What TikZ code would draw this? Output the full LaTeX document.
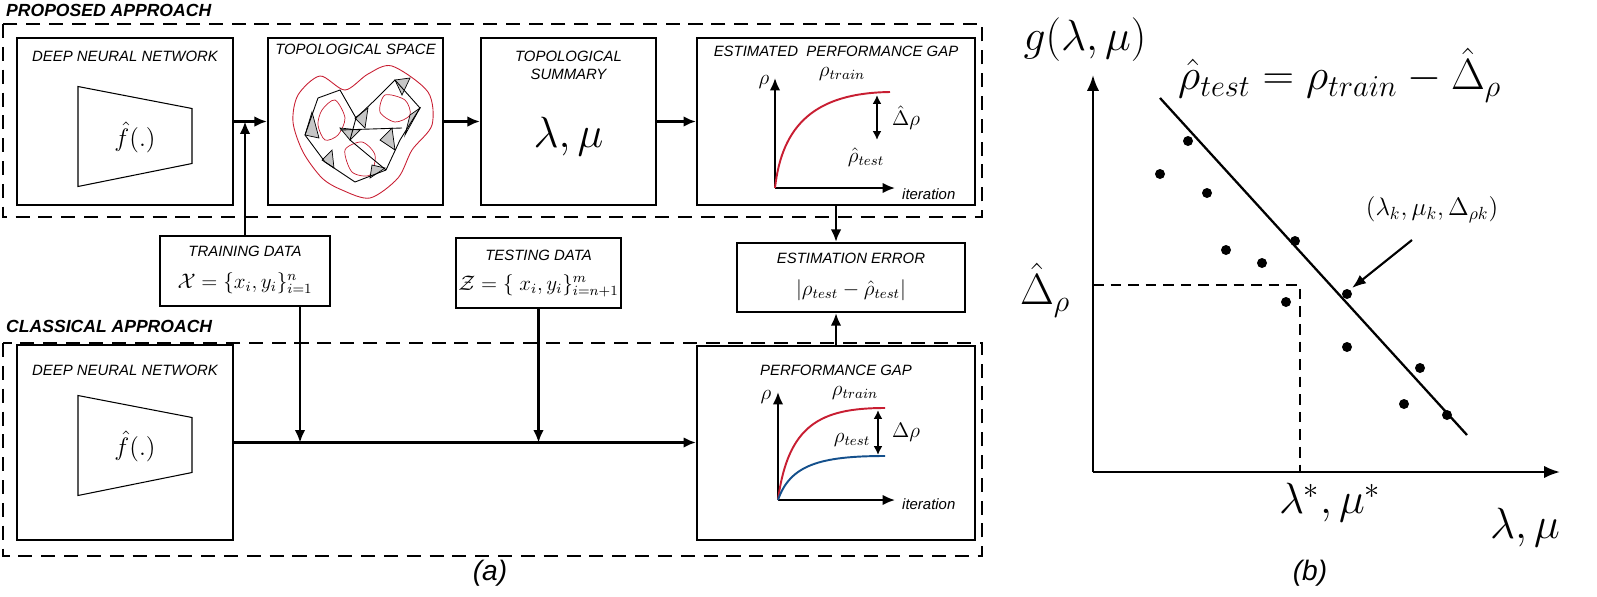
\documentclass[tikz,border=0pt]{standalone}
\usepackage{amsmath,amssymb}
\usepackage{fontspec}
\setmainfont{Liberation Sans}
\usetikzlibrary{positioning,calc,arrows.meta}
\definecolor{curvered}{RGB}{200,30,50}
\definecolor{curveblue}{RGB}{20,80,140}
\begin{document}
\begin{tikzpicture}[x=0.02cm,y=-0.02cm,
    box/.style={draw,line width=1.4pt,inner sep=0pt},
    dbox/.style={draw,line width=0.6pt,dash pattern=on 8pt off 5pt},
    boxtxt/.style={font=\itshape\fontsize{8.5}{10}\selectfont},
    head/.style={font=\bfseries\itshape\fontsize{10}{12}\selectfont,anchor=west},
    arr/.style={line width=1.2pt,-{Latex[length=7pt,width=6pt]}},
    darr/.style={line width=1.2pt,{Latex[length=5pt,width=5pt]}-{Latex[length=5pt,width=5pt]}},
    dot/.style={circle,fill,inner sep=0pt,minimum size=0.2cm}]
\useasboundingbox (0,0) rectangle (1597,596);

% upper part
\node[head] (hp) at (0,10) {PROPOSED APPROACH};
\draw[dbox] (3,24) rectangle (982,217);
\node[box,minimum width=4.32cm,minimum height=3.34cm] (dnn) at (125,121.5) {};
\node[box,minimum width=3.5cm,minimum height=3.34cm] (topo) at (355.5,121.5) {};
\node[box,minimum width=3.5cm,minimum height=3.34cm] (summ) at (568.5,121.5) {};
\node[box,minimum width=5.56cm,minimum height=3.34cm] (est) at (836,121.5) {};
\node[boxtxt] at ($(dnn)+(0,-65)$) {DEEP NEURAL NETWORK};
\node[boxtxt] at ($(topo)+(0,-72)$) {TOPOLOGICAL SPACE};
\node[boxtxt,align=center] at ($(summ)+(0,-56)$) {TOPOLOGICAL\\SUMMARY};
\node at ($(summ)+(0,15)$) {\fontsize{38}{40}\selectfont$\lambda,\mu$};
\node[boxtxt] at ($(est)+(0,-70)$) {ESTIMATED \ PERFORMANCE GAP};

% middle boxes
\node[box,minimum width=3.4cm,minimum height=1.4cm] (train) at (245,271) {};
\node[boxtxt] at ($(train)+(0,-20)$) {TRAINING DATA};
\node at ($(train)+(0,12)$) {\large$\mathcal{X}=\{x_i,y_i\}_{i=1}^{n}$};
\node[box,minimum width=3.3cm,minimum height=1.4cm] (test) at (538.5,273) {};
\node[boxtxt] at ($(test)+(0,-18)$) {TESTING DATA};
\node at ($(test)+(0,13)$) {\large$\mathcal{Z}=\{\;x_i,y_i\}_{i=n+1}^{m}$};
\node[box,minimum width=4.56cm,minimum height=1.38cm] (err) at (851,277.5) {};
\node[boxtxt] at ($(err)+(0,-19)$) {ESTIMATION ERROR};
\node at ($(err)+(0,13)$) {\large$|\rho_{test}-\hat{\rho}_{test}|$};

% lower part
\node[head] (hc) at (0,326) {CLASSICAL APPROACH};
\draw[dbox] (3,343) rectangle (982,556);
\node[box,minimum width=4.32cm,minimum height=3.9cm] (dnn2) at (125,442.5) {};
\node[box,minimum width=5.56cm,minimum height=3.88cm] (gap) at (836,443) {};
\node[boxtxt] at ($(dnn2)+(0,-72)$) {DEEP NEURAL NETWORK};
\node[boxtxt] at ($(gap)+(0,-73)$) {PERFORMANCE GAP};

% networks
\foreach \n/\d in {dnn/0,dnn2/-12} {
    \draw[line width=0.6pt] ($(\n)+(-47,-35+\d)$) -- ($(\n)+(67,-13+\d)$) -- ($(\n)+(67,42+\d)$) -- ($(\n)+(-47,65+\d)$) -- cycle;
    \node at ($(\n)+(10,16+\d)$) {\Large$\hat{f}(.)$}; }

% topological space
\draw[curvered,line width=0.5pt] plot[smooth cycle] coordinates {(293,122) (298,95) (320,76) (345,90) (368,74) (392,66) (428,92) (432,125) (412,150) (398,178) (370,198) (342,190) (322,178) (303,152)};
\draw[curvered,line width=0.4pt] plot[smooth cycle] coordinates {(322,110) (335,100) (345,118) (338,135) (325,140) (318,125)};
\draw[curvered,line width=0.4pt] plot[smooth cycle] coordinates {(385,95) (405,100) (410,115) (395,122) (380,112)};
\draw[curvered,line width=0.4pt] plot[smooth cycle] coordinates {(345,150) (362,142) (375,155) (370,175) (352,172)};
\draw[fill=gray!45,line width=0.4pt] (305,135) -- (312,112) -- (319,138) -- cycle;
\draw[fill=gray!45,line width=0.4pt] (355,118) -- (368,108) -- (365,128) -- cycle;
\draw[fill=gray!45,line width=0.4pt] (340,128) -- (360,130) -- (350,140) -- cycle;
\draw[fill=gray!45,line width=0.4pt] (380,140) -- (392,128) -- (395,150) -- cycle;
\draw[fill=gray!45,line width=0.4pt] (395,80) -- (410,78) -- (402,95) -- cycle;
\draw[fill=gray!45,line width=0.4pt] (410,115) -- (420,108) -- (405,135) -- cycle;
\draw[fill=gray!45,line width=0.4pt] (322,160) -- (332,150) -- (334,168) -- cycle;
\draw[fill=gray!45,line width=0.4pt] (372,165) -- (385,168) -- (370,178) -- cycle;
\draw[line width=0.5pt] (305,135) -- (318,98) -- (340,90) -- (356,118) -- (375,100) -- (395,80) -- (420,108) -- (400,140) -- (386,170) -- (355,182) -- (325,162) -- cycle;
\draw[line width=0.5pt] (340,130) -- (402,128) (356,118) -- (350,140) -- (386,170);

% estimated curve
\coordinate (eo) at (775,188);
\draw[arr] (eo) -- ++(0,-110);
\draw[arr] (eo) -- ++(120,0);
\draw[curvered,line width=1.1pt] (eo) .. controls (782,125) and (815,93) .. (890,92);
\node at (764,82) {\large$\rho$};
\node at (842,74) {\large$\rho_{train}$};
\draw[darr] (877,95) -- (877,140);
\node[anchor=west] at (886,118) {\large$\hat{\Delta}\rho$};
\node at (866,157) {\large$\hat{\rho}_{test}$};
\node[boxtxt,anchor=west] at (896,194) {iteration};

% gap curves
\coordinate (go) at (778,500);
\draw[arr] (go) -- ++(0,-108);
\draw[arr] (go) -- ++(117,0);
\draw[curvered,line width=1.1pt] (go) .. controls (788,425) and (820,408) .. (885,408);
\draw[curveblue,line width=1.1pt] (go) .. controls (790,465) and (820,456) .. (885,456);
\node at (766,397) {\large$\rho$};
\node at (855,393) {\large$\rho_{train}$};
\node at (852,440) {\large$\rho_{test}$};
\draw[darr] (878,410) -- (878,455);
\node[anchor=west] at (886,432) {\large$\Delta\rho$};
\node[boxtxt,anchor=west] at (896,504) {iteration};

% connectors
\coordinate (tr) at ($(train.south)+(55,0)$);
\draw[arr] (dnn.east) -- (topo.west);
\draw[arr] (train.north) -- (train.north |- dnn.east);
\draw[arr] (topo) -- (summ);
\draw[arr] (summ) -- (est);
\draw[arr] (est.south) -- (err.north -| est.south);
\draw[arr] (gap.north) -- (err.south -| gap.north);
\draw[arr] (dnn2.east) -- (dnn2.east -| gap.west);
\draw[arr] (tr) -- (tr |- dnn2.east);
\draw[arr] (test.south) -- (test.south |- dnn2.east);

\node at (490,573) {\fontsize{16}{18}\selectfont\itshape(a)};
\node at (1310,573) {\fontsize{16}{18}\selectfont\itshape(b)};

% regression plot
\coordinate (o) at (1093,472);
\draw[line width=1.3pt,-{Latex[length=9pt,width=7pt]}] (o) -- (1093,75);
\draw[line width=1.3pt,-{Latex[length=9pt,width=7pt]}] (o) -- (1560,472);
\node at (1085,40) {\fontsize{24}{26}\selectfont$g(\lambda,\mu)$};
\node[anchor=west] at (1172,75) {\fontsize{23}{25}\selectfont$\hat{\rho}_{test}=\rho_{train}-\hat{\Delta}_{\rho}$};
\draw[line width=1.3pt] (1160,98) -- (1467,435);
\foreach \p in {(1160,174),(1188,141),(1207,193),(1226,250),(1262,263),(1295,241),(1286,302),(1347,294),(1347,347),(1420,368),(1404,404),(1447,415)}
    \node[dot] at \p {};
\coordinate (dh) at (1300,285);
\draw[line width=1pt,dash pattern=on 6pt off 4pt] (o |- dh) -- (dh) -- (dh |- o);
\node at (1045,290) {\fontsize{26}{28}\selectfont$\hat{\Delta}_{\rho}$};
\node at (1330,503) {\fontsize{24}{26}\selectfont$\lambda^{*},\mu^{*}$};
\node at (1525,528) {\fontsize{24}{26}\selectfont$\lambda,\mu$};
\node (lk) at (1432,210) {\Large$(\lambda_k,\mu_k,\Delta_{\rho k})$};
\coordinate (pk) at (1352,288);
\draw[line width=1.2pt,-{Latex[length=8pt,width=6pt]}] (1412,240) -- (pk);
\end{tikzpicture}
\end{document}
